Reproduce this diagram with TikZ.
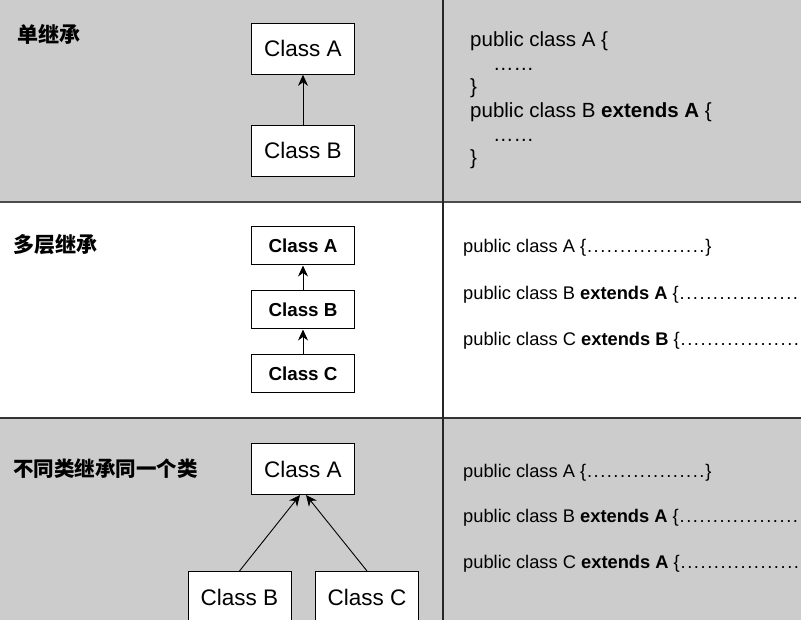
\documentclass[tikz,border=0pt]{standalone}
\usepackage{fontspec}
\setmainfont{Liberation Sans}
\newfontfamily\cjk{Noto Sans CJK SC}
\usetikzlibrary{arrows.meta}
\definecolor{bandgray}{HTML}{CCCCCC}
\newcommand\dotrun[1]{\hbox to #1{\xleaders\hbox to 6.6pt{\hss.\hss}\hfil}}

\begin{document}
\begin{tikzpicture}[x=1pt,y=-1pt,
  cls/.style={draw,fill=white,line width=1pt,minimum width=103pt,minimum height=51pt,inner sep=0pt,font=\fontsize{22.5}{26}\selectfont},
  clsb/.style={cls,minimum height=38pt,font=\fontsize{18.8}{22}\selectfont\bfseries},
  code/.style={anchor=base west,inner sep=0pt,font=\fontsize{18.3}{22}\selectfont},
  lbl/.style={anchor=west,inner sep=0pt,font=\fontsize{21}{24}\selectfont\cjk\bfseries},
  inh/.style={-{Stealth[length=11pt,width=10pt,inset=3.5pt]},line width=0.9pt}]
\clip (0,0) rectangle (801,620);
% bands and grid
\fill[bandgray] (0,0) rectangle (801,202);
\fill[bandgray] (0,418) rectangle (801,620);
\draw[line width=1.2pt,black!70] (0,202) -- (801,202);
\draw[line width=1.2pt,black!80] (0,418) -- (801,418);
\draw[line width=1.2pt,black!85] (443,0) -- (443,620);

% single inheritance
\node[lbl] (single) at (17,34) {单继承};
\node[cls] (singleA) at (303,48.8) {Class A};
\node[cls] (singleB) at (303,150.9) {Class B};
\draw[inh] (singleB) -- (singleA);
\node[code,font=\fontsize{20.5}{24}\selectfont] (s1) at (470,47) {public class A \{};
\node[code,font=\fontsize{20.5}{24}\selectfont] (s2) at (493,70.5) {……};
\node[code,font=\fontsize{20.5}{24}\selectfont] (s3) at (470,94) {\}};
\node[code,font=\fontsize{20.5}{24}\selectfont] (s4) at (470,118) {public class B \textbf{extends A} \{};
\node[code,font=\fontsize{20.5}{24}\selectfont] (s5) at (493,141.5) {……};
\node[code,font=\fontsize{20.5}{24}\selectfont] (s6) at (470,165) {\}};

% multilevel inheritance
\node[lbl] (multi) at (13,245) {多层继承};
\node[clsb] (multiA) at (303,246) {Class A};
\node[clsb] (multiB) at (303,310) {Class B};
\node[clsb] (multiC) at (303,373.5) {Class C};
\draw[inh] (multiB) -- (multiA);
\draw[inh] (multiC) -- (multiB);
\node[code] (m1) at (463,253) {public class A \{\dotrun{119pt}\}};
\node[code] (m2) at (463,300) {public class B \textbf{extends A} \{\dotrun{160pt}};
\node[code] (m3) at (463,346) {public class C \textbf{extends B} \{\dotrun{160pt}};

% several classes inherit one class
\node[lbl,font=\fontsize{20.5}{24}\selectfont\cjk\bfseries] (hier) at (13,469) {不同类继承同一个类};
\node[cls] (hierA) at (303,469) {Class A};
\node[cls] (hierB) at (239.5,597) {Class B};
\node[cls] (hierC) at (367,597) {Class C};
\draw[inh] (hierB.north) -- ([xshift=-3pt]hierA.south);
\draw[inh] (hierC.north) -- ([xshift=3pt]hierA.south);
\node[code] (h1) at (463,477) {public class A \{\dotrun{119pt}\}};
\node[code] (h2) at (463,522) {public class B \textbf{extends A} \{\dotrun{160pt}};
\node[code] (h3) at (463,568) {public class C \textbf{extends A} \{\dotrun{160pt}};
\end{tikzpicture}
\end{document}
